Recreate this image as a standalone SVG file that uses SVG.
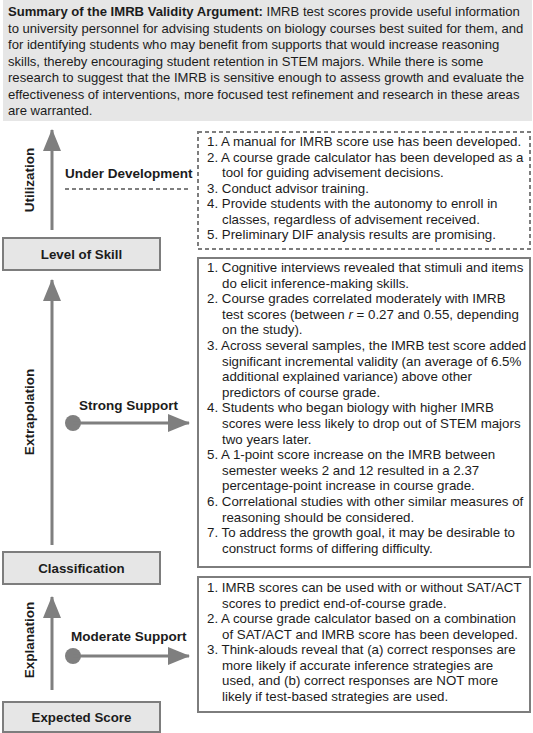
<svg xmlns="http://www.w3.org/2000/svg" width="533" height="733" viewBox="0 0 533 733">
<style>
text{font-family:"Liberation Sans",Arial,sans-serif;fill:#1c1c1c}
.sum{font-size:13.1px}
.b{font-weight:bold}
.body{font-size:13.3px}
.lab{font-size:13.5px;font-weight:bold}
.ttl{font-size:13.3px;font-weight:bold;text-anchor:middle}
.lvl{fill:#e6e6e6;stroke:#7d7d7d;stroke-width:2}
.ev{fill:#fff;stroke:#7d7d7d;stroke-width:2}
.dash{fill:#fff;stroke:#7d7d7d;stroke-width:2;stroke-dasharray:4 3}
.arr{stroke:#7f7f7f;stroke-width:3;fill:none;marker-end:url(#ah)}
.dot{fill:#7f7f7f}
</style>
<defs>
<marker id="ah" markerUnits="userSpaceOnUse" markerWidth="22" markerHeight="18" refX="21" refY="9" orient="auto">
<path d="M0,0 L22,9 L0,18 z" fill="#7f7f7f"/>
</marker>
</defs>
<g id="summary">
<rect x="3" y="0" width="529" height="121" fill="#e6e6e6"/>
<text class="sum" x="8" y="16"><tspan class="b">Summary of the IMRB Validity Argument:</tspan> IMRB test scores provide useful information</text>
<text class="sum" x="8" y="32.5">to university personnel for advising students on biology courses best suited for them, and</text>
<text class="sum" x="8" y="49">for identifying students who may benefit from supports that would increase reasoning</text>
<text class="sum" x="8" y="65.5">skills, thereby encouraging student retention in STEM majors. While there is some</text>
<text class="sum" x="8" y="82">research to suggest that the IMRB is sensitive enough to assess growth and evaluate the</text>
<text class="sum" x="8" y="98.5">effectiveness of interventions, more focused test refinement and research in these areas</text>
<text class="sum" x="8" y="115">are warranted.</text>
</g>
<g id="level-of-skill">
<rect class="lvl" x="3" y="238" width="157" height="32"/>
<text class="ttl" x="81.5" y="259">Level of Skill</text>
</g>
<g id="classification">
<rect class="lvl" x="3" y="552" width="157" height="32"/>
<text class="ttl" x="81.5" y="573">Classification</text>
</g>
<g id="expected-score">
<rect class="lvl" x="3" y="702" width="157" height="30"/>
<text class="ttl" x="81.5" y="722">Expected Score</text>
</g>
<g id="utilization-evidence">
<rect class="dash" x="198" y="132" width="332" height="117"/>
<text class="body" x="207" y="146">1. A manual for IMRB score use has been developed.</text>
<text class="body" x="207" y="161.5">2. A course grade calculator has been developed as a</text>
<text class="body" x="222" y="177">tool for guiding advisement decisions.</text>
<text class="body" x="207" y="192.5">3. Conduct advisor training.</text>
<text class="body" x="207" y="208">4. Provide students with the autonomy to enroll in</text>
<text class="body" x="222" y="223.5">classes, regardless of advisement received.</text>
<text class="body" x="207" y="239">5. Preliminary DIF analysis results are promising.</text>
</g>
<g id="extrapolation-evidence">
<rect class="ev" x="198" y="258" width="332" height="309"/>
<text class="body" x="207" y="272">1. Cognitive interviews revealed that stimuli and items</text>
<text class="body" x="222" y="287.6">do elicit inference-making skills.</text>
<text class="body" x="207" y="303.2">2. Course grades correlated moderately with IMRB</text>
<text class="body" x="222" y="318.8">test scores (between <tspan font-style="italic">r</tspan> = 0.27 and 0.55, depending</text>
<text class="body" x="222" y="334.4">on the study).</text>
<text class="body" x="207" y="350">3. Across several samples, the IMRB test score added</text>
<text class="body" x="222" y="365.6">significant incremental validity (an average of 6.5%</text>
<text class="body" x="222" y="381.2">additional explained variance) above other</text>
<text class="body" x="222" y="396.8">predictors of course grade.</text>
<text class="body" x="207" y="412.4">4. Students who began biology with higher IMRB</text>
<text class="body" x="222" y="428">scores were less likely to drop out of STEM majors</text>
<text class="body" x="222" y="443.6">two years later.</text>
<text class="body" x="207" y="459.2">5. A 1-point score increase on the IMRB between</text>
<text class="body" x="222" y="474.8">semester weeks 2 and 12 resulted in a 2.37</text>
<text class="body" x="222" y="490.4">percentage-point increase in course grade.</text>
<text class="body" x="207" y="506">6. Correlational studies with other similar measures of</text>
<text class="body" x="222" y="521.6">reasoning should be considered.</text>
<text class="body" x="207" y="537.2">7. To address the growth goal, it may be desirable to</text>
<text class="body" x="222" y="552.8">construct forms of differing difficulty.</text>
</g>
<g id="explanation-evidence">
<rect class="ev" x="198" y="577" width="332" height="135"/>
<text class="body" x="207" y="592">1. IMRB scores can be used with or without SAT/ACT</text>
<text class="body" x="222" y="607.5">scores to predict end-of-course grade.</text>
<text class="body" x="207" y="623">2. A course grade calculator based on a combination</text>
<text class="body" x="222" y="638.5">of SAT/ACT and IMRB score has been developed.</text>
<text class="body" x="207" y="654">3. Think-alouds reveal that (a) correct responses are</text>
<text class="body" x="222" y="669.5">more likely if accurate inference strategies are</text>
<text class="body" x="222" y="685">used, and (b) correct responses are NOT more</text>
<text class="body" x="222" y="700.5">likely if test-based strategies are used.</text>
</g>
<g id="connectors">
<line class="arr" x1="52" y1="230" x2="52" y2="130"/>
<line class="arr" x1="52" y1="545" x2="52" y2="280"/>
<line class="arr" x1="52" y1="690" x2="52" y2="597"/>
<line x1="65" y1="189" x2="191" y2="189" stroke="#7f7f7f" stroke-width="2" stroke-dasharray="4 3"/>
<circle class="dot" cx="73" cy="423" r="8"/>
<line class="arr" x1="73" y1="423" x2="189" y2="423"/>
<circle class="dot" cx="73" cy="656" r="8"/>
<line class="arr" x1="73" y1="656" x2="189" y2="656"/>
</g>
<g id="labels">
<text class="lab" transform="translate(34,180) rotate(-90)" text-anchor="middle">Utilization</text>
<text class="lab" transform="translate(34,412) rotate(-90)" text-anchor="middle">Extrapolation</text>
<text class="lab" transform="translate(34,640) rotate(-90)" text-anchor="middle">Explanation</text>
<text class="lab" x="65" y="178">Under Development</text>
<text class="lab" x="79" y="410">Strong Support</text>
<text class="lab" x="71" y="641">Moderate Support</text>
</g>
</svg>
